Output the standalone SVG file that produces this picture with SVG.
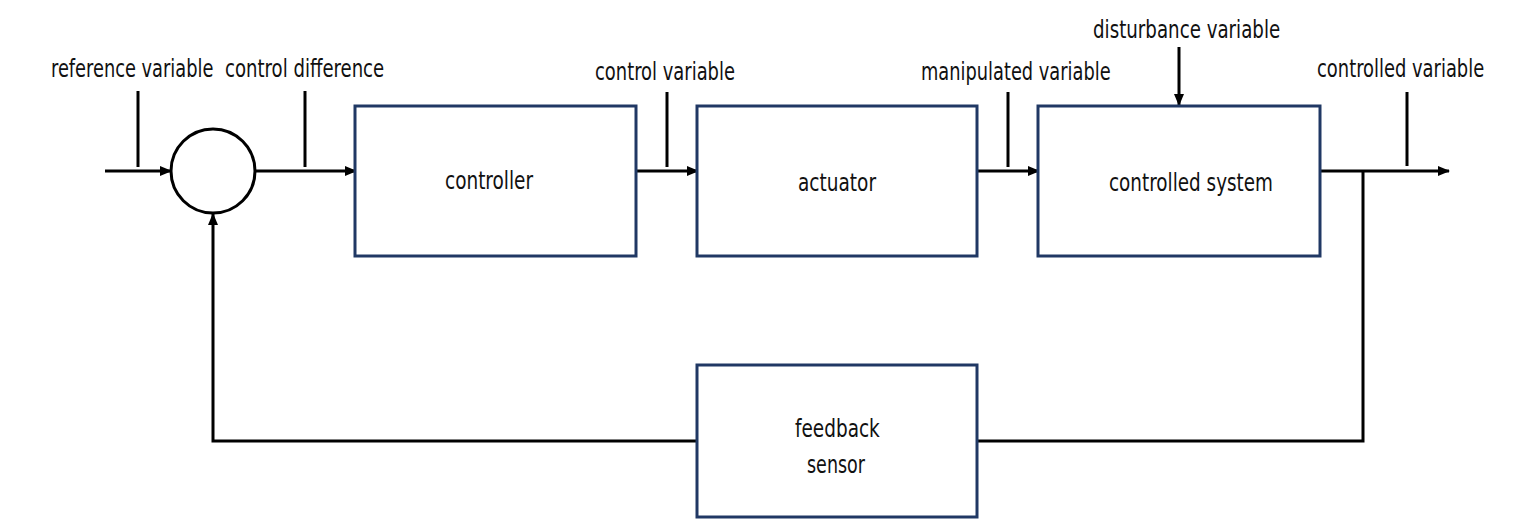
<svg xmlns="http://www.w3.org/2000/svg" width="1536" height="519" viewBox="0 0 1536 519">
<style>
  text { font-family: "DejaVu Sans Condensed", "DejaVu Sans", "Liberation Sans", sans-serif; font-stretch: condensed; font-size: 25px; fill: #111; }
  .box { fill: #fff; stroke: #203864; stroke-width: 3; }
  .sum { fill: #fff; stroke: #000; stroke-width: 3; }
  .wire { fill: none; stroke: #000; stroke-width: 3; }
  .arr { fill: none; stroke: #000; stroke-width: 3; marker-end: url(#ah); }
</style>
<defs>
  <marker id="ah" viewBox="0 0 12 10" refX="11" refY="5" markerWidth="12" markerHeight="10" markerUnits="userSpaceOnUse" orient="auto">
    <path d="M0,0 L12,5 L0,10 z" fill="#000"/>
  </marker>
</defs>
<rect width="1536" height="519" fill="#fff"/>

<g id="connectors">
  <line class="arr" x1="105" y1="171" x2="171" y2="171"/>
  <line class="arr" x1="256" y1="171" x2="356" y2="171"/>
  <line class="arr" x1="636" y1="171" x2="698" y2="171"/>
  <line class="arr" x1="977" y1="171" x2="1039" y2="171"/>
  <line class="arr" x1="1320" y1="171" x2="1449" y2="171"/>
  <line class="arr" x1="1179" y1="47" x2="1179" y2="105"/>
  <polyline class="wire" points="1363,171 1363,441 977,441"/>
  <polyline class="arr" points="697,441 213,441 213,214"/>
  <line class="wire" x1="138" y1="91" x2="138" y2="167"/>
  <line class="wire" x1="305" y1="91" x2="305" y2="167"/>
  <line class="wire" x1="667" y1="92" x2="667" y2="167"/>
  <line class="wire" x1="1008" y1="92" x2="1008" y2="167"/>
  <line class="wire" x1="1407" y1="92" x2="1407" y2="166"/>
</g>

<g id="summing-point">
  <circle class="sum" cx="213" cy="171" r="42"/>
</g>

<g id="controller">
  <rect class="box" x="355" y="106" width="281" height="150"/>
  <text transform="translate(445,189) scale(0.8,1)" textLength="110" lengthAdjust="spacingAndGlyphs">controller</text>
</g>

<g id="actuator">
  <rect class="box" x="697" y="106" width="280" height="150"/>
  <text transform="translate(798,191) scale(0.8,1)" textLength="97.5" lengthAdjust="spacingAndGlyphs">actuator</text>
</g>

<g id="controlled-system">
  <rect class="box" x="1038" y="106" width="282" height="150"/>
  <text transform="translate(1109,191) scale(0.8,1)" textLength="205" lengthAdjust="spacingAndGlyphs">controlled system</text>
</g>

<g id="feedback-sensor">
  <rect class="box" x="697" y="365" width="280" height="152"/>
  <text transform="translate(795,437) scale(0.8,1)" textLength="106" lengthAdjust="spacingAndGlyphs">feedback</text>
  <text transform="translate(807,473) scale(0.8,1)" textLength="72.5" lengthAdjust="spacingAndGlyphs">sensor</text>
</g>

<g id="labels">
  <text transform="translate(51,77) scale(0.8,1)" textLength="203" lengthAdjust="spacingAndGlyphs">reference variable</text>
  <text transform="translate(225,77) scale(0.8,1)" textLength="199" lengthAdjust="spacingAndGlyphs">control difference</text>
  <text transform="translate(595,80) scale(0.8,1)" textLength="175" lengthAdjust="spacingAndGlyphs">control variable</text>
  <text transform="translate(921,80) scale(0.8,1)" textLength="237" lengthAdjust="spacingAndGlyphs">manipulated variable</text>
  <text transform="translate(1093,38) scale(0.8,1)" textLength="234" lengthAdjust="spacingAndGlyphs">disturbance variable</text>
  <text transform="translate(1317,77) scale(0.8,1)" textLength="209" lengthAdjust="spacingAndGlyphs">controlled variable</text>
</g>
</svg>
